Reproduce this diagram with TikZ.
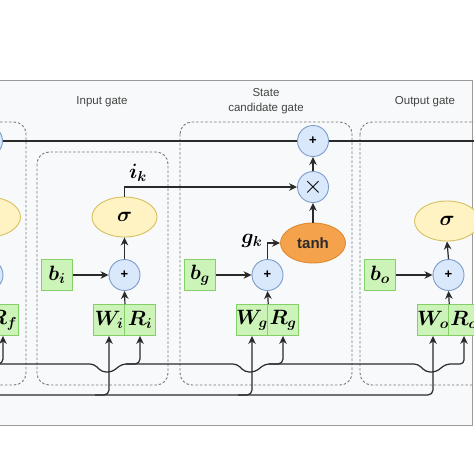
\documentclass[tikz,border=0pt]{standalone}
\usepackage{fontspec}
\newfontfamily\labfont{Liberation Sans}
\usetikzlibrary{arrows.meta,shapes.geometric}
\definecolor{bluefill}{HTML}{DAE8FC}
\definecolor{bluestroke}{HTML}{7A9CCB}
\definecolor{yelfill}{HTML}{FFF3C4}
\definecolor{yelstroke}{HTML}{D6C060}
\definecolor{grnfill}{HTML}{CCF3B8}
\definecolor{grnstroke}{HTML}{84D066}
\definecolor{orfill}{HTML}{F5A24C}
\definecolor{orstroke}{HTML}{E08A30}
\definecolor{linec}{HTML}{2A2A2A}
\definecolor{dashc}{HTML}{777777}
\definecolor{framec}{HTML}{9A9A9A}
\definecolor{bgc}{HTML}{F8F9FA}
\definecolor{labc}{HTML}{444444}
\begin{document}
\begin{tikzpicture}[x=1pt,y=-1pt,
  gate/.style={circle,draw=bluestroke,fill=bluefill,line width=0.9pt,minimum size=31pt,inner sep=0pt},
  sig/.style={ellipse,draw=yelstroke,fill=yelfill,line width=0.9pt,minimum width=65pt,minimum height=40pt,inner sep=0pt,font=\boldmath\fontsize{20}{20}\selectfont},
  tanhn/.style={ellipse,draw=orstroke,fill=orfill,line width=0.9pt,minimum width=65pt,minimum height=40pt,inner sep=0pt,font=\labfont\bfseries\fontsize{15}{15}\selectfont,text=linec},
  wbox/.style={rectangle,draw=grnstroke,fill=grnfill,line width=0.9pt,minimum size=31pt,inner sep=0pt,font=\boldmath\fontsize{20}{20}\selectfont},
  arr/.style={-{Stealth[length=8pt,width=7.5pt,inset=2.5pt]},line width=1.2pt,draw=linec},
  ln/.style={line width=1.2pt,draw=linec},
  gatebox/.style={draw=dashc,line width=0.9pt,dash pattern=on 2.5pt off 2pt,rounded corners=12pt},
  lab/.style={font=\labfont\fontsize{11.5}{15}\selectfont,text=labc,align=center},
  mlab/.style={font=\boldmath\fontsize{20}{20}\selectfont,inner sep=0pt},
  plus/.style={font=\labfont\bfseries\fontsize{13}{13}\selectfont},
  times/.style={font=\fontsize{24}{24}\selectfont}]
\useasboundingbox (0,0) rectangle (474,474);
\fill[white] (0,0) rectangle (474,474);
\draw[draw=framec,fill=bgc,line width=1pt] (-10,80) rectangle (472,425);

% gate boxes
\draw[gatebox] (-150,122) rectangle (26,385);
\draw[gatebox] (37,152) rectangle (168,385);
\draw[gatebox] (180,122) rectangle (352,385);
\draw[gatebox] (360,122) rectangle (520,385);

% titles
\node[lab] (tin) at (102,102) {Input gate};
\node[lab] (tst) at (266,101.5) {State\\candidate gate};
\node[lab] (tout) at (425,102) {Output gate};

% forget gate (mostly outside)
\node[gate] (fx) at (-13,141) {};
\node[sig] (fsig) at (-12,217) {};
\node[gate] (fplus) at (-12.5,275) {};
\node[wbox] (Wf) at (-28,320) {};
\node[wbox] (Rf) at (3,320) {$R_f$};

% input gate
\node[sig] (isig) at (124.5,217) {$\sigma$};
\node[gate,plus] (iplus) at (124.5,275) {+};
\node[wbox] (bi) at (57,275) {$b_i$};
\node[wbox] (Wi) at (109,320) {$W_i$};
\node[wbox] (Ri) at (140,320) {$R_i$};
\node[mlab] (ik) at (138,173) {$i_k$};

% state candidate gate
\node[gate,plus] (splus) at (313,141) {+};
\node[gate,times] (smul) at (313,187) {$\times$};
\node[tanhn] (tanh) at (313,243) {tanh};
\node[gate,plus] (gplus) at (267.5,275) {+};
\node[wbox] (bg) at (200,275) {$b_g$};
\node[wbox] (Wg) at (252,320) {$W_g$};
\node[wbox] (Rg) at (283,320) {$R_g$};
\node[mlab] (gk) at (252,241) {$g_k$};

% output gate
\node[sig] (osig) at (447,221) {$\sigma$};
\node[gate,plus] (oplus) at (448.5,275) {+};
\node[wbox] (bo) at (380,275) {$b_o$};
\node[wbox] (Wo) at (433,320) {$W_o$};
\node[wbox] (Ro) at (464,320) {$R_o$};

% state line
\coordinate (sEnd) at (490,141);
\draw[ln] (fx.east) -- (splus.west);
\draw[ln] (splus.east) -- (sEnd);

% forget internals
\draw[arr] (fplus.north) -- (fsig.south);
\draw[arr] (Wf.north east) -- (fplus.south);

% input gate connectors
\draw[arr] (bi.east) -- (iplus.west);
\draw[arr] (Wi.north east) -- (iplus.south);
\draw[arr] (iplus.north) -- (isig.south);
\draw[arr] (isig.north) |- (smul.west);

% state candidate connectors
\draw[arr] (smul.north) -- (splus.south);
\draw[arr] (tanh.north) -- (smul.south);
\draw[arr] (gplus.north) |- (tanh.west);
\draw[arr] (bg.east) -- (gplus.west);
\draw[arr] (Wg.north east) -- (gplus.south);

% output gate connectors
\draw[arr] (bo.east) -- (oplus.west);
\draw[arr] (Wo.north east) -- (oplus.south);
\draw[arr] (oplus.north) -- (osig.south);

% bottom input lines
\coordinate (inA) at (-20,364);
\coordinate (inB) at (-20,395);
\draw[arr,rounded corners=4pt] (inA) -- (94,364) -- (102,372) -- (112,372) -- (122,364)
  -- (237,364) -- (245,372) -- (255,372) -- (265,364)
  -- (418,364) -- (426,372) -- (436,372) -- (446,364) -| (Ro.south);
\draw[arr,rounded corners=5pt] (-10,364) -| (Rf.south);
\draw[arr,rounded corners=5pt] (126,364) -| (Ri.south);
\draw[arr,rounded corners=5pt] (269,364) -| (Rg.south);
\draw[arr,rounded corners=5pt] (inB) -| (Wo.south);
\draw[arr,rounded corners=5pt] (95,395) -| (Wi.south);
\draw[arr,rounded corners=5pt] (238,395) -| (Wg.south);
\end{tikzpicture}
\end{document}
